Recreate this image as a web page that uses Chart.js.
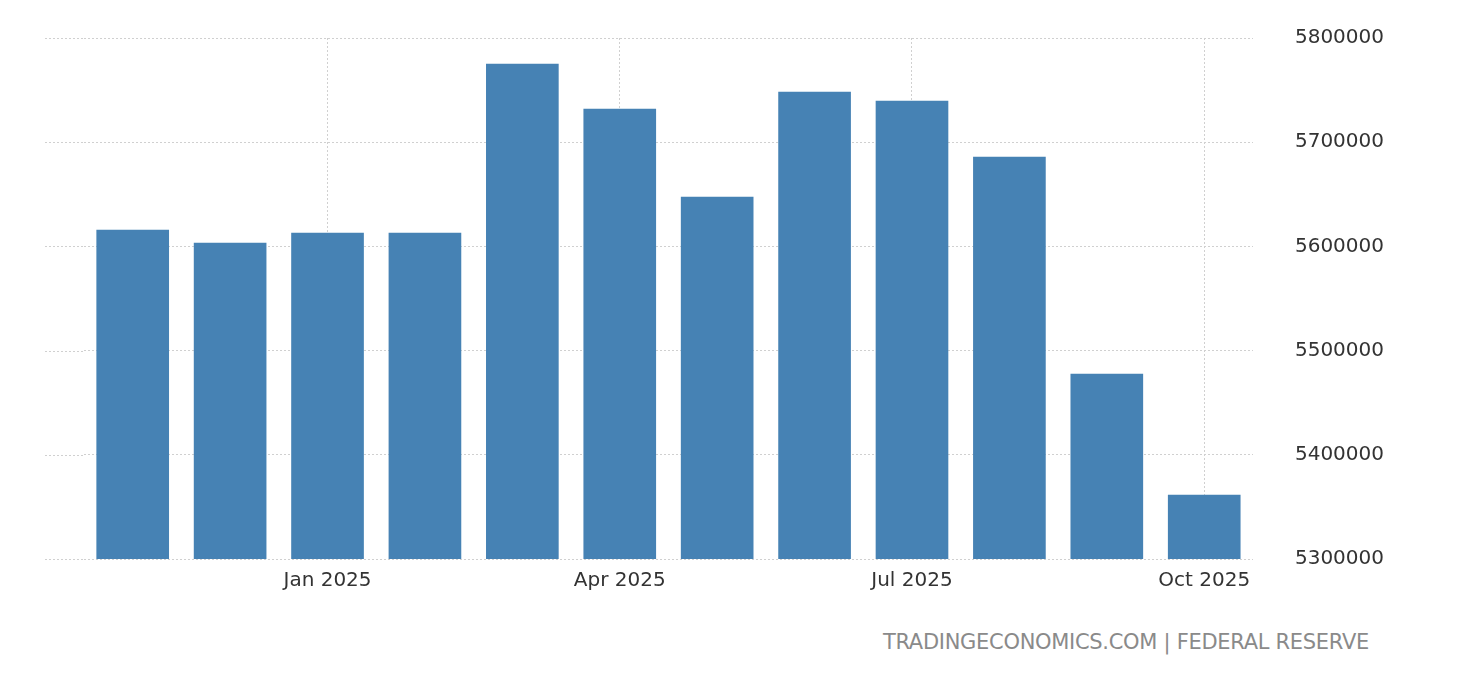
<!DOCTYPE html>
<html><head><meta charset="utf-8">
<script src="https://cdn.jsdelivr.net/npm/chart.js@4"></script>
<style>
body{margin:0;background:#fff;width:1460px;height:680px;overflow:hidden;font-family:"Liberation Sans",Arial,sans-serif}
#wrap{position:absolute;left:0;top:-16px;width:1426px;height:629px}
#src{position:absolute;right:91px;top:630px;font-size:21px;color:#8a8a8a;font-family:"DejaVu Sans",sans-serif;letter-spacing:-0.3px}
</style></head><body>
<div id="wrap"><canvas id="c"></canvas></div>
<div id="src">TRADINGECONOMICS.COM | FEDERAL RESERVE</div>
<script>
const months=["Nov 2024","Dec 2024","Jan 2025","Feb 2025","Mar 2025","Apr 2025","May 2025","Jun 2025","Jul 2025","Aug 2025","Sep 2025","Oct 2025"];
const values=[5615700,5603300,5612900,5612900,5775000,5731900,5647400,5748200,5739500,5685800,5477500,5361400];
const tickIdx=[2,5,8,11];
const yTicks=[5300000,5400000,5500000,5600000,5700000,5800000];
const GRID='#d0d0d0';
const extend={id:'extend',beforeDatasetsDraw(ch){
  const y=ch.scales.y,ctx=ch.ctx;ctx.save();ctx.strokeStyle=GRID;ctx.lineWidth=1;ctx.setLineDash([2,2]);
  yTicks.forEach(v=>{const p=Math.round(y.getPixelForValue(v))+0.5;ctx.beginPath();ctx.moveTo(45,p);ctx.lineTo(ch.chartArea.left,p);ctx.stroke();});
  ctx.restore();}};
new Chart(document.getElementById('c'),{
type:'bar',
data:{labels:months,datasets:[{data:values,backgroundColor:'#4682b4',barThickness:72}]},
plugins:[extend],
options:{responsive:true,maintainAspectRatio:false,animation:false,
layout:{padding:{left:84,top:12,right:0,bottom:0}},
plugins:{legend:{display:false},tooltip:{enabled:false}},
scales:{
x:{offset:true,
 ticks:{autoSkip:false,callback:(v,i)=>tickIdx.includes(i)?months[i]:'',color:'#333',font:{size:20,family:'"DejaVu Sans"'},maxRotation:0,padding:10},
 grid:{offset:false,color:c=>tickIdx.includes(c.index)?GRID:'rgba(0,0,0,0)',drawTicks:false},border:{display:false,dash:[2,2]}},
y:{position:'right',min:5300000,max:5800000,
 afterBuildTicks:s=>{s.ticks=yTicks.map(v=>({value:v}));},
 ticks:{callback:v=>String(v),color:'#333',font:{size:20,family:'"DejaVu Sans"'},padding:42},
 grid:{color:GRID,drawTicks:false},border:{display:false,dash:[2,2]}}
}}});
</script></body></html>
